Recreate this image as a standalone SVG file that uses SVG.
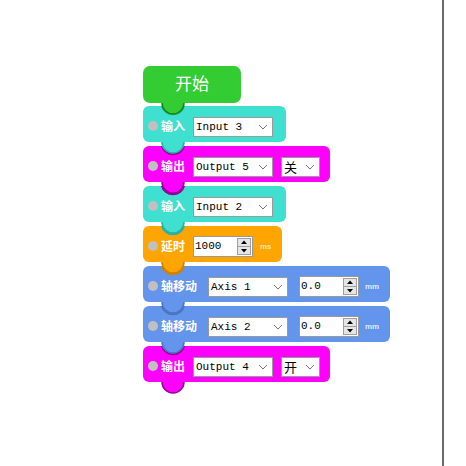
<svg xmlns="http://www.w3.org/2000/svg" width="466" height="466" viewBox="0 0 466 466">
<style>
.lbl{font-family:"Noto Sans CJK SC","Liberation Sans",sans-serif;font-size:12px;font-weight:bold;fill:#fff}
.dd{fill:#fff;stroke:#9a9a9a;stroke-width:1}
.ddt{font-family:"Liberation Mono","DejaVu Sans Mono",monospace;font-size:11px;fill:#000}
.cjk{font-family:"Noto Sans CJK SC",sans-serif;font-size:13px;fill:#000}
.chev{fill:none;stroke:#777;stroke-width:1}
.dot{fill:#c0c0c0}
.unit{font-family:"Liberation Sans",sans-serif;font-size:8px;font-weight:bold}
.spin{fill:#e6e6e6;stroke:#a0a0a0;stroke-width:1}
</style>
<rect width="466" height="466" fill="#ffffff"/>
<line x1="443" y1="0" x2="443" y2="466" stroke="#6a6a6a" stroke-width="2"/>
<g id="connectors"></g>

<g id="output4">
<rect x="143" y="346" width="187" height="36" rx="6" fill="#ff00ff"/>
<path d="M160.9,346 A12.5,12.5 0 0 0 185.1,346 Z" fill="#990099"/>
<path d="M162,380 L162,382 A11,11 0 0 0 184,382 L184,380 Z" fill="#ff00ff"/>
<path d="M162,382 A11,11 0 0 0 184,382" fill="none" stroke="#990099" stroke-width="1.5"/>
<circle class="dot" cx="153" cy="366" r="5"/>
<text class="lbl" x="161" y="371">输出</text>
<rect class="dd" x="193.5" y="357.5" width="79" height="19"/>
<text class="ddt" x="196" y="370">Output 4</text>
<polyline class="chev" points="259,365 263,369 267,365"/>
<rect class="dd" x="281.5" y="357.5" width="38" height="19"/>
<text class="cjk" x="284" y="372">开</text>
<polyline class="chev" points="306,365 310,369 314,365"/>
</g>

<g id="axis2">
<rect x="143" y="306" width="247" height="36" rx="6" fill="#6495ed"/>
<path d="M160.9,306 A12.5,12.5 0 0 0 185.1,306 Z" fill="#4a75c0"/>
<path d="M162,340 L162,342 A11,11 0 0 0 184,342 L184,340 Z" fill="#6495ed"/>
<path d="M162,342 A11,11 0 0 0 184,342" fill="none" stroke="#4a75c0" stroke-width="1.5"/>
<circle class="dot" cx="153" cy="326" r="5"/>
<text class="lbl" x="161" y="331">轴移动</text>
<rect class="dd" x="208.5" y="317.5" width="79" height="19"/>
<text class="ddt" x="211" y="330">Axis 2</text>
<polyline class="chev" points="274,325 278,329 282,325"/>
<rect class="dd" x="299.5" y="316.5" width="59" height="20"/>
<text class="ddt" x="301" y="329">0.0</text>
<rect class="spin" x="343.5" y="318.5" width="13" height="16"/>
<line x1="344" y1="326.5" x2="356" y2="326.5" stroke="#a0a0a0"/>
<path d="M347,324 L350,320.5 L353,324 Z M347,329 L353,329 L350,332.5 Z" fill="#000"/>
<text class="unit" x="365" y="329" fill="#dfe8fb">mm</text>
</g>

<g id="axis1">
<rect x="143" y="266" width="247" height="36" rx="6" fill="#6495ed"/>
<path d="M160.9,266 A12.5,12.5 0 0 0 185.1,266 Z" fill="#cc8400"/>
<path d="M162,300 L162,302 A11,11 0 0 0 184,302 L184,300 Z" fill="#6495ed"/>
<path d="M162,302 A11,11 0 0 0 184,302" fill="none" stroke="#4a75c0" stroke-width="1.5"/>
<circle class="dot" cx="153" cy="286" r="5"/>
<text class="lbl" x="161" y="291">轴移动</text>
<rect class="dd" x="208.5" y="277.5" width="79" height="19"/>
<text class="ddt" x="211" y="290">Axis 1</text>
<polyline class="chev" points="274,285 278,289 282,285"/>
<rect class="dd" x="299.5" y="276.5" width="59" height="20"/>
<text class="ddt" x="301" y="289">0.0</text>
<rect class="spin" x="343.5" y="278.5" width="13" height="16"/>
<line x1="344" y1="286.5" x2="356" y2="286.5" stroke="#a0a0a0"/>
<path d="M347,284 L350,280.5 L353,284 Z M347,289 L353,289 L350,292.5 Z" fill="#000"/>
<text class="unit" x="365" y="289" fill="#dfe8fb">mm</text>
</g>

<g id="delay">
<rect x="143" y="226" width="139" height="36" rx="6" fill="#ffa500"/>
<path d="M160.9,226 A12.5,12.5 0 0 0 185.1,226 Z" fill="#2ab0a8"/>
<path d="M162,260 L162,262 A11,11 0 0 0 184,262 L184,260 Z" fill="#ffa500"/>
<path d="M162,262 A11,11 0 0 0 184,262" fill="none" stroke="#cc8400" stroke-width="1.5"/>
<circle class="dot" cx="153" cy="246" r="5"/>
<text class="lbl" x="161" y="251">延时</text>
<rect class="dd" x="193.5" y="236.5" width="59" height="20"/>
<text class="ddt" x="195" y="249">1000</text>
<rect class="spin" x="237.5" y="238.5" width="13" height="16"/>
<line x1="238" y1="246.5" x2="250" y2="246.5" stroke="#a0a0a0"/>
<path d="M241,244 L244,240.5 L247,244 Z M241,249 L247,249 L244,252.5 Z" fill="#000"/>
<text class="unit" x="260" y="249" fill="#ffe4b0">ms</text>
</g>

<g id="input2">
<rect x="143" y="186" width="143" height="36" rx="6" fill="#40e0d0"/>
<path d="M160.9,186 A12.5,12.5 0 0 0 185.1,186 Z" fill="#990099"/>
<path d="M162,220 L162,222 A11,11 0 0 0 184,222 L184,220 Z" fill="#40e0d0"/>
<path d="M162,222 A11,11 0 0 0 184,222" fill="none" stroke="#2ab0a8" stroke-width="1.5"/>
<circle class="dot" cx="153" cy="206" r="5"/>
<text class="lbl" x="161" y="211">输入</text>
<rect class="dd" x="193.5" y="197.5" width="79" height="19"/>
<text class="ddt" x="196" y="210">Input 2</text>
<polyline class="chev" points="259,205 263,209 267,205"/>
</g>

<g id="output5">
<rect x="143" y="146" width="187" height="36" rx="6" fill="#ff00ff"/>
<path d="M160.9,146 A12.5,12.5 0 0 0 185.1,146 Z" fill="#990099"/>
<path d="M162,180 L162,182 A11,11 0 0 0 184,182 L184,180 Z" fill="#ff00ff"/>
<path d="M162,182 A11,11 0 0 0 184,182" fill="none" stroke="#990099" stroke-width="1.5"/>
<circle class="dot" cx="153" cy="166" r="5"/>
<text class="lbl" x="161" y="171">输出</text>
<rect class="dd" x="193.5" y="157.5" width="79" height="19"/>
<text class="ddt" x="196" y="170">Output 5</text>
<polyline class="chev" points="259,165 263,169 267,165"/>
<rect class="dd" x="281.5" y="157.5" width="38" height="19"/>
<text class="cjk" x="284" y="172">关</text>
<polyline class="chev" points="306,165 310,169 314,165"/>
</g>

<g id="input3">
<rect x="143" y="106" width="143" height="36" rx="6" fill="#40e0d0"/>
<path d="M160.9,106 A12.5,12.5 0 0 0 185.1,106 Z" fill="#2ab0a8"/>
<path d="M162,140 L162,142 A11,11 0 0 0 184,142 L184,140 Z" fill="#40e0d0"/>
<path d="M162,142 A11,11 0 0 0 184,142" fill="none" stroke="#2ab0a8" stroke-width="1.5"/>
<circle class="dot" cx="153" cy="126" r="5"/>
<text class="lbl" x="161" y="131">输入</text>
<rect class="dd" x="193.5" y="117.5" width="79" height="19"/>
<text class="ddt" x="196" y="130">Input 3</text>
<polyline class="chev" points="259,125 263,129 267,125"/>
</g>

<g id="start">
<rect x="143" y="66" width="98" height="37" rx="7" fill="#33cc33"/>
<path d="M162,101 L162,103 A11,11 0 0 0 184,103 L184,101 Z" fill="#33cc33"/>
<path d="M162,103 A11,11 0 0 0 184,103" fill="none" stroke="#118811" stroke-width="1.5"/>
<text x="192" y="90" text-anchor="middle" font-family="Noto Sans CJK SC, sans-serif" font-size="17" fill="#fff">开始</text>
</g>
</svg>
